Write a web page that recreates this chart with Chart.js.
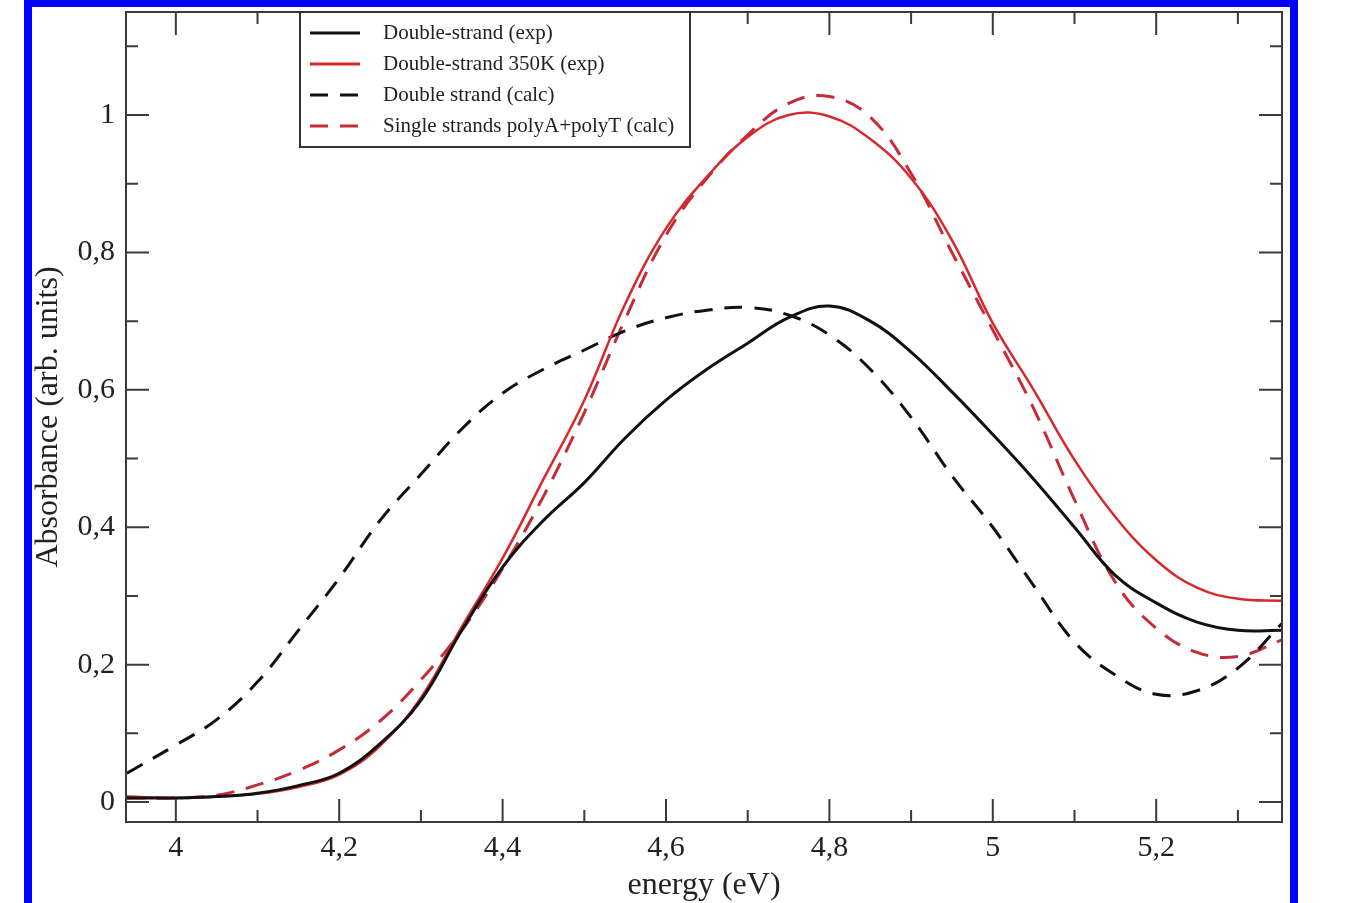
<!DOCTYPE html>
<html>
<head>
<meta charset="utf-8">
<script src="https://cdn.jsdelivr.net/npm/chart.js@4.4.1/dist/chart.umd.min.js"></script>
<style>
  html, body { margin: 0; padding: 0; background: #fff; overflow: hidden; }
  #wrap { position: relative; width: 1368px; height: 903px; }
  #frame { position: absolute; left: 24px; top: 0; width: 1258px; height: 920px;
           border: 8px solid #0000ff; border-top-width: 7px; border-bottom: none; }
  #myChart { position: absolute; left: 0; top: 0; }
</style>
</head>
<body>
<div id="wrap">
  <div id="frame"></div>
  <canvas id="myChart" width="1368" height="903"></canvas>
</div>
<script>
// energy grid (eV) shared by all curves
var energy = [3.94, 4.0, 4.05, 4.1, 4.15, 4.2, 4.25, 4.3, 4.35, 4.4, 4.45, 4.5, 4.55, 4.6, 4.65,
              4.7, 4.75, 4.8, 4.85, 4.9, 4.95, 5.0, 5.05, 5.1, 5.15, 5.2, 5.25, 5.3, 5.354];

var doubleExp = [0.006, 0.006, 0.008, 0.013, 0.024, 0.042, 0.085, 0.148, 0.25, 0.342, 0.41, 0.465, 0.53, 0.585, 0.63,
                 0.668, 0.705, 0.722, 0.70, 0.655, 0.597, 0.535, 0.47, 0.40, 0.33, 0.29, 0.262, 0.25, 0.25];

var double350Exp = [0.008, 0.006, 0.008, 0.012, 0.022, 0.04, 0.082, 0.152, 0.255, 0.355, 0.47, 0.585, 0.725, 0.835, 0.91,
                    0.968, 1.0, 0.998, 0.965, 0.908, 0.818, 0.697, 0.6, 0.498, 0.415, 0.352, 0.312, 0.296, 0.293];

var doubleCalc = [0.042, 0.083, 0.12, 0.175, 0.25, 0.326, 0.41, 0.477, 0.543, 0.595, 0.63, 0.658, 0.686, 0.705, 0.716,
                  0.72, 0.709, 0.68, 0.63, 0.56, 0.475, 0.40, 0.315, 0.233, 0.185, 0.157, 0.162, 0.195, 0.26];

var singleCalc = [0.006, 0.006, 0.01, 0.025, 0.046, 0.076, 0.118, 0.178, 0.25, 0.34, 0.445, 0.567, 0.703, 0.825, 0.908,
                  0.971, 1.017, 1.027, 0.997, 0.915, 0.80, 0.687, 0.573, 0.44, 0.32, 0.253, 0.218, 0.212, 0.236];

var seriesLabels = ['Double-strand (exp)', 'Double-strand 350K (exp)', 'Double strand (calc)', 'Single strands polyA+polyT (calc)'];

var serif = '"Liberation Serif", "Times New Roman", serif';
var red = '#d42a2e';
var redDash = '#c62b38';
var black = '#111111';

function pts(ys) {
  return energy.map(function (x, i) { return { x: x, y: ys[i] }; });
}

function isMajor(v) {
  return Math.round(v * 10) % 2 === 0;
}

function keepTenths(scale) {
  scale.ticks = scale.ticks.filter(function (t) {
    return Math.abs(t.value * 10 - Math.round(t.value * 10)) < 1e-6;
  });
}

function tickLabel(value) {
  if (!isMajor(value)) return '';
  return String(Math.round(value * 10) / 10).replace('.', ',');
}

// frame box + inward ticks on all four sides
var frameTicks = {
  id: 'frameTicks',
  afterDatasetsDraw: function (chart) {
    var ctx = chart.ctx, a = chart.chartArea;
    var xs = chart.scales.x, ys = chart.scales.y;
    ctx.save();
    ctx.strokeStyle = '#3a3a3a';
    ctx.lineWidth = 2;
    ctx.strokeRect(a.left, a.top, a.right - a.left, a.bottom - a.top);
    ctx.beginPath();
    xs.ticks.forEach(function (t) {
      var px = xs.getPixelForValue(t.value);
      var len = isMajor(t.value) ? 23 : 12;
      ctx.moveTo(px, a.bottom); ctx.lineTo(px, a.bottom - len);
      ctx.moveTo(px, a.top); ctx.lineTo(px, a.top + len);
    });
    ys.ticks.forEach(function (t) {
      var py = ys.getPixelForValue(t.value);
      var len = isMajor(t.value) ? 23 : 12;
      ctx.moveTo(a.left, py); ctx.lineTo(a.left + len, py);
      ctx.moveTo(a.right, py); ctx.lineTo(a.right - len, py);
    });
    ctx.stroke();
    ctx.restore();
  }
};

// boxed legend in the upper left of the plot
var boxLegend = {
  id: 'boxLegend',
  afterDraw: function (chart) {
    var ctx = chart.ctx;
    var left = 300, top = 12, w = 390, h = 135;
    ctx.save();
    ctx.fillStyle = '#fff';
    ctx.fillRect(left, top, w, h);
    ctx.strokeStyle = '#333';
    ctx.lineWidth = 2;
    ctx.strokeRect(left, top, w, h);
    ctx.font = '21px ' + serif;
    ctx.textBaseline = 'middle';
    ctx.textAlign = 'left';
    chart.data.datasets.forEach(function (ds, i) {
      var y = 33 + i * 31;
      ctx.beginPath();
      ctx.strokeStyle = ds.borderColor;
      ctx.lineWidth = 3;
      ctx.setLineDash(ds.borderDash || []);
      ctx.moveTo(310, y);
      ctx.lineTo(360, y);
      ctx.stroke();
      ctx.setLineDash([]);
      ctx.fillStyle = '#222';
      ctx.fillText(ds.label, 383, y);
    });
    ctx.restore();
  }
};

var data = {
  datasets: [{
    label: seriesLabels[0],
    data: pts(doubleExp),
    borderColor: black,
    borderWidth: 3
  }, {
    label: seriesLabels[1],
    data: pts(double350Exp),
    borderColor: red,
    borderWidth: 2.5
  }, {
    label: seriesLabels[2],
    data: pts(doubleCalc),
    borderColor: black,
    borderWidth: 3,
    borderDash: [18, 12]
  }, {
    label: seriesLabels[3],
    data: pts(singleCalc),
    borderColor: redDash,
    borderWidth: 3,
    borderDash: [18, 12]
  }]
};

var options = {
  responsive: false,
  animation: false,
  devicePixelRatio: 1,
  layout: { padding: { left: 0, right: 86, top: 12, bottom: 0 } },
  elements: {
    point: { radius: 0 },
    line: { tension: 0.4, fill: false }
  },
  plugins: {
    legend: { display: false },
    tooltip: { enabled: false }
  },
  scales: {
    x: {
      type: 'linear',
      min: 3.939,
      max: 5.354,
      grid: { display: false, drawTicks: false },
      border: { display: false },
      afterBuildTicks: keepTenths,
      afterFit: function (s) {
        s.height = 81;
        s.paddingLeft = 0;
        s.paddingRight = 0;
      },
      ticks: {
        stepSize: 0.1,
        includeBounds: false,
        autoSkip: false,
        maxRotation: 0,
        padding: 8,
        color: '#222',
        font: { family: serif, size: 30 },
        callback: tickLabel
      },
      title: {
        display: true,
        text: 'energy (eV)',
        color: '#222',
        padding: { top: 0, bottom: 1 },
        font: { family: serif, size: 32, lineHeight: 1 }
      }
    },
    y: {
      type: 'linear',
      min: -0.029,
      max: 1.15,
      grid: { display: false, drawTicks: false },
      border: { display: false },
      afterBuildTicks: keepTenths,
      afterFit: function (s) {
        s.width = 126;
        s.paddingTop = 0;
        s.paddingBottom = 0;
      },
      ticks: {
        stepSize: 0.1,
        includeBounds: false,
        autoSkip: false,
        padding: 11,
        color: '#222',
        font: { family: serif, size: 30 },
        callback: tickLabel
      },
      title: {
        display: true,
        text: 'Absorbance (arb. units)',
        color: '#222',
        padding: { top: 33, bottom: 0 },
        font: { family: serif, size: 32, lineHeight: 1 }
      }
    }
  }
};

var myChart = new Chart(document.getElementById('myChart'), {
  type: 'line',
  data: data,
  options: options,
  plugins: [frameTicks, boxLegend]
});
</script>
</body>
</html>
